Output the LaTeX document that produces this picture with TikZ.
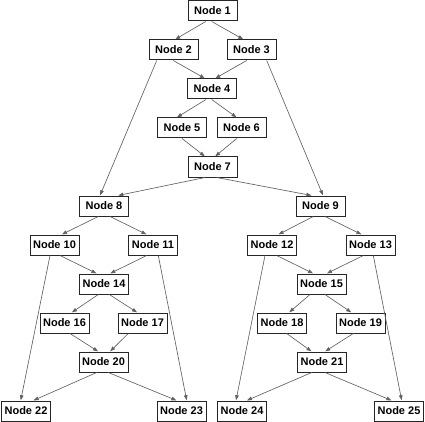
\documentclass[tikz,border=0pt]{standalone}
\usepackage{fontspec}
\setmainfont{Liberation Sans}
\usetikzlibrary{arrows.meta}
\begin{document}
\begin{tikzpicture}[x=1pt,y=-1pt,
  box/.style={draw=black!85,line width=1pt,fill=white,minimum width=49pt,minimum height=20pt,
    inner xsep=2pt,inner ysep=0pt,font=\fontsize{11}{12}\selectfont\bfseries},
  edge/.style={draw=black!62,line width=0.65pt,-{Triangle[length=5pt,width=3.6pt]},shorten >=0.3pt}]
\useasboundingbox (0,0) rectangle (425,422);
\node[box] (n1) at (212.5,11) {Node 1};
\node[box] (n2) at (173.5,50) {Node 2};
\node[box] (n3) at (251.5,50) {Node 3};
\node[box] (n4) at (212,89) {Node 4};
\node[box] (n5) at (182,128) {Node 5};
\node[box] (n6) at (241.5,128) {Node 6};
\node[box] (n7) at (212.5,167) {Node 7};
\node[box] (n8) at (104,206) {Node 8};
\node[box] (n9) at (320.5,206) {Node 9};
\node[box] (n10) at (54.5,245) {Node 10};
\node[box] (n11) at (153,245) {Node 11};
\node[box] (n12) at (272,245) {Node 12};
\node[box] (n13) at (370.5,245) {Node 13};
\node[box] (n14) at (104,284) {Node 14};
\node[box] (n15) at (321.5,284) {Node 15};
\node[box] (n16) at (64.5,323) {Node 16};
\node[box] (n17) at (142.5,323) {Node 17};
\node[box] (n18) at (282,323) {Node 18};
\node[box] (n19) at (360.5,323) {Node 19};
\node[box] (n20) at (103.5,362) {Node 20};
\node[box] (n21) at (322,362) {Node 21};
\node[box] (n22) at (26,411) {Node 22};
\node[box] (n23) at (181.5,411) {Node 23};
\node[box] (n24) at (242,411) {Node 24};
\node[box] (n25) at (399,411) {Node 25};
\draw[edge] ([xshift=-6.8pt]n1.south) -- ([xshift=1.5pt]n2.north);
\draw[edge] ([xshift=-0.8pt]n1.south) -- ([xshift=-8pt]n3.north);
\draw[edge] ([xshift=-0.2pt]n2.south) -- ([xshift=-7pt]n4.north);
\draw[edge] ([xshift=-4.8pt]n3.south) -- ([xshift=3pt]n4.north);
\draw[edge] ([xshift=-16.8pt]n2.south) -- ([xshift=-4pt]n8.north);
\draw[edge] ([xshift=15.2pt]n3.south) -- ([xshift=2.5pt]n9.north);
\draw[edge] ([xshift=-6pt]n4.south) -- ([xshift=-5.3pt]n5.north);
\draw[edge] ([xshift=-0.3pt]n4.south) -- ([xshift=-4.8pt]n6.north);
\draw[edge] ([xshift=0pt]n5.south) -- ([xshift=-7.5pt]n7.north);
\draw[edge] ([xshift=-4.8pt]n6.south) -- ([xshift=2.5pt]n7.north);
\draw[edge] ([xshift=-7.5pt]n7.south) -- ([xshift=14pt]n8.north);
\draw[edge] ([xshift=4.2pt]n7.south) -- ([xshift=-8.8pt]n9.north);
\draw[edge] ([xshift=-5.7pt]n8.south) -- ([xshift=7.2pt]n10.north);
\draw[edge] ([xshift=6pt]n8.south) -- ([xshift=-6.3pt]n11.north);
\draw[edge] ([xshift=5.5pt]n10.south) -- ([xshift=-7.3pt]n14.north);
\draw[edge] ([xshift=-6.3pt]n11.south) -- ([xshift=6pt]n14.north);
\draw[edge] ([xshift=-4.5pt]n10.south) -- ([xshift=-5.3pt]n22.north);
\draw[edge] ([xshift=5.3pt]n11.south) -- ([xshift=5.2pt]n23.north);
\draw[edge] ([xshift=-5.7pt]n14.south) -- ([xshift=7.2pt]n16.north);
\draw[edge] ([xshift=5.3pt]n14.south) -- ([xshift=-5.2pt]n17.north);
\draw[edge] ([xshift=5.5pt]n16.south) -- ([xshift=-5.2pt]n20.north);
\draw[edge] ([xshift=-14.2pt]n17.south) -- ([xshift=6.5pt]n20.north);
\draw[edge] ([xshift=-6.8pt]n20.south) -- ([xshift=7.3pt]n22.north);
\draw[edge] ([xshift=4.8pt]n20.south) -- ([xshift=-4.8pt]n23.north);
\draw[edge] ([xshift=-7.2pt]n9.south) -- ([xshift=6.3pt]n12.north);
\draw[edge] ([xshift=4.5pt]n9.south) -- ([xshift=-8.8pt]n13.north);
\draw[edge] ([xshift=4.7pt]n12.south) -- ([xshift=-8.2pt]n15.north);
\draw[edge] ([xshift=-7.2pt]n13.south) -- ([xshift=5.2pt]n15.north);
\draw[edge] ([xshift=-7pt]n12.south) -- ([xshift=-6pt]n24.north);
\draw[edge] ([xshift=2.8pt]n13.south) -- ([xshift=2.7pt]n25.north);
\draw[edge] ([xshift=-11.5pt]n15.south) -- ([xshift=7pt]n18.north);
\draw[edge] ([xshift=3.5pt]n15.south) -- ([xshift=-9pt]n19.north);
\draw[edge] ([xshift=4.7pt]n18.south) -- ([xshift=-10.3pt]n21.north);
\draw[edge] ([xshift=-7.2pt]n19.south) -- ([xshift=3pt]n21.north);
\draw[edge] ([xshift=-10.3pt]n21.south) -- ([xshift=4.7pt]n24.north);
\draw[edge] ([xshift=3pt]n21.south) -- ([xshift=-7.3pt]n25.north);
\end{tikzpicture}
\end{document}
